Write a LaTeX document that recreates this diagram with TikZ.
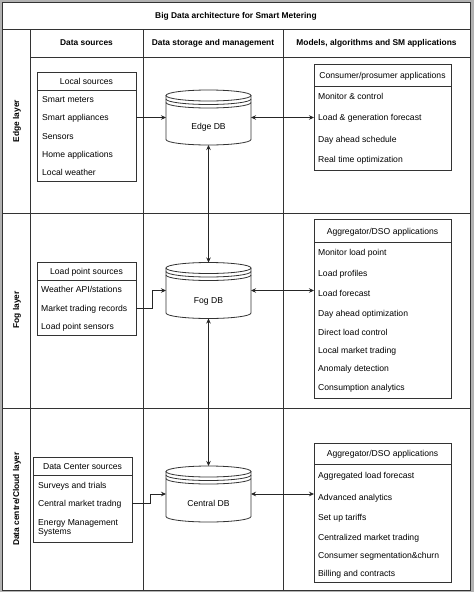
\documentclass[tikz,border=0pt]{standalone}
\usepackage{fontspec}
\setmainfont{Liberation Sans}
\usetikzlibrary{arrows.meta,calc}
\tikzset{
  grid/.style={draw=black!80, line width=0.8pt},
  hd/.style={font=\fontsize{8.4}{10}\selectfont\bfseries, inner sep=0pt},
  listbox/.style={draw=black!80, line width=0.8pt, inner sep=0pt, outer sep=0pt, fill=white},
  boxhead/.style={inner sep=0pt, text height=6.2pt, text depth=0pt},
  item/.style={inner sep=0pt, anchor=west, text height=6.2pt, text depth=0pt},
  dbnode/.style={inner sep=0pt, outer sep=0pt, minimum width=85pt, minimum height=56pt},
  dbline/.style={draw=black!80, line width=0.8pt},
  arr/.style={draw=black!85, line width=0.8pt, -{Stealth[length=5pt,width=4.5pt]}},
  darr/.style={draw=black!85, line width=0.8pt, {Stealth[length=5pt,width=4.5pt]}-{Stealth[length=5pt,width=4.5pt]}},
}
\begin{document}
\begin{tikzpicture}[x=1pt,y=-1pt,font=\fontsize{8.6}{9.3}\selectfont]
\useasboundingbox (0,0) rectangle (474,592);
\fill[black!30] (0,0) rectangle (474,592);
\fill[white] (2,2) rectangle (470.5,590);
% table grid
\draw[grid] (2,2) rectangle (470.5,590);
\draw[grid] (2,29) -- (470.5,29);
\draw[grid] (30,29) -- (30,590);
\draw[grid] (30,57) -- (470.5,57);
\draw[grid] (143,29) -- (143,590);
\draw[grid] (283,29) -- (283,590);
\draw[grid] (2,213) -- (470.5,213);
\draw[grid] (2,408) -- (470.5,408);
% titles
\node[hd] (title) at (236,16) {Big Data architecture for Smart Metering};
\node[hd] (h1) at (86.5,43) {Data sources};
\node[hd] (h2) at (213,43) {Data storage and management};
\node[hd] (h3) at (376.5,43) {Models, algorithms and SM applications};
\node[hd, rotate=90] (l1) at (17,121) {Edge layer};
\node[hd, rotate=90] (l2) at (17,310) {Fog layer};
\node[hd, rotate=90] (l3) at (17,499) {Data centre/Cloud layer};

% ---------- Edge layer ----------
\node[listbox, minimum width=99pt, minimum height=109pt] (localbox) at (86.5,126.5) {};
\draw[grid] (37,90) -- (136,90);
\node[boxhead] (localhd) at (86.5,81) {Local sources};
\node[item] (ls1) at (42,99) {Smart meters};
\node[item] (ls2) at (42,117) {Smart appliances};
\node[item] (ls3) at (42,136) {Sensors};
\node[item] (ls4) at (42,154) {Home applications};
\node[item] (ls5) at (42,172) {Local weather};

\node[dbnode, minimum height=55pt, label={[yshift=-10pt]center:Edge DB}] (edgedb) at (208.5,117.5) {};

\node[listbox, minimum width=137pt, minimum height=106pt] (consbox) at (382.5,117) {};
\draw[grid] (314,86) -- (451,86);
\node[boxhead] (conshd) at (382.5,75) {Consumer/prosumer applications};
\node[item] (c1) at (318,96) {Monitor \& control};
\node[item] (c2) at (318,117) {Load \& generation forecast};
\node[item] (c3) at (318,139) {Day ahead schedule};
\node[item] (c4) at (318,159) {Real time optimization};

% ---------- Fog layer ----------
\node[listbox, minimum width=99pt, minimum height=73pt] (lpbox) at (86.5,298.5) {};
\draw[grid] (37,280) -- (136,280);
\node[boxhead] (lphd) at (86.5,271) {Load point sources};
\node[item] (lp1) at (41,289) {Weather API/stations};
\node[item] (lp2) at (41,308) {Market trading records};
\node[item] (lp3) at (41,326) {Load point sensors};

\node[dbnode, label={[yshift=-10.5pt]center:Fog DB}] (fogdb) at (208.5,290.5) {};

\node[listbox, minimum width=137pt, minimum height=179pt] (aggbox) at (382.5,308.5) {};
\draw[grid] (314,242) -- (451,242);
\node[boxhead] (agghd) at (382.5,231) {Aggregator/DSO applications};
\node[item] (a1) at (318,252) {Monitor load point};
\node[item] (a2) at (318,273) {Load profiles};
\node[item] (a3) at (318,293) {Load forecast};
\node[item] (a4) at (318,313) {Day ahead optimization};
\node[item] (a5) at (318,332) {Direct load control};
\node[item] (a6) at (318,350) {Local market trading};
\node[item] (a7) at (318,368) {Anomaly detection};
\node[item] (a8) at (318,387) {Consumption analytics};

% ---------- Cloud layer ----------
\node[listbox, minimum width=99pt, minimum height=85pt] (dcbox) at (82.5,499.5) {};
\draw[grid] (33,475) -- (132,475);
\node[boxhead] (dchd) at (82.5,466) {Data Center sources};
\node[item] (d1) at (38,485) {Surveys and trials};
\node[item] (d2) at (38,503) {Central market tradng};
\node[inner sep=0pt, anchor=north west, align=left] (d3) at (38,518.9) {Energy Management\\Systems};

\node[dbnode, label={[yshift=-9pt]center:Central DB}] (centraldb) at (208.5,494) {};

\node[listbox, minimum width=137pt, minimum height=139pt] (cagbox) at (382.5,512.5) {};
\draw[grid] (314,464) -- (451,464);
\node[boxhead] (caghd) at (382.5,453) {Aggregator/DSO applications};
\node[item] (g1) at (318,475) {Aggregated load forecast};
\node[item] (g2) at (318,497) {Advanced analytics};
\node[item] (g3) at (318,517) {Set up tariffs};
\node[item] (g4) at (318,537) {Centralized market trading};
\node[item] (g5) at (318,555) {Consumer segmentation\&churn};
\node[item] (g6) at (318,573) {Billing and contracts};

% ---------- cylinders ----------
\foreach \n in {edgedb,fogdb,centraldb}{
  \draw[dbline] ($(\n.north west)+(0,5.5)$) -- ($(\n.south west)+(0,-5.5)$)
     arc[start angle=180,end angle=0,x radius=42.5,y radius=5.5]
     -- ($(\n.north east)+(0,5.5)$);
  \draw[dbline] ($(\n.north)+(0,5.5)$) ellipse[x radius=42.5,y radius=5.5];
  \draw[dbline] ($(\n.north west)+(0,9)$) arc[start angle=180,end angle=0,x radius=42.5,y radius=5.5];
  \draw[dbline] ($(\n.north west)+(0,12.5)$) arc[start angle=180,end angle=0,x radius=42.5,y radius=5.5];
}

% ---------- connectors ----------
\draw[arr] (localbox.east |- edgedb.west) -- (edgedb.west);
\draw[darr] (edgedb.east) -- (consbox.west |- edgedb.east);
\draw[darr] (edgedb.south) -- (fogdb.north);
\draw[arr] (lpbox.east |- lp2) -- ++(16,0) |- (fogdb.west);
\draw[darr] (fogdb.east) -- (aggbox.west |- fogdb.east);
\draw[darr] (fogdb.south) -- (centraldb.north);
\draw[arr] (dcbox.east |- d2) -- ++(18,0) |- (centraldb.west);
\draw[darr] (centraldb.east) -- (cagbox.west |- centraldb.east);
\end{tikzpicture}
\end{document}
